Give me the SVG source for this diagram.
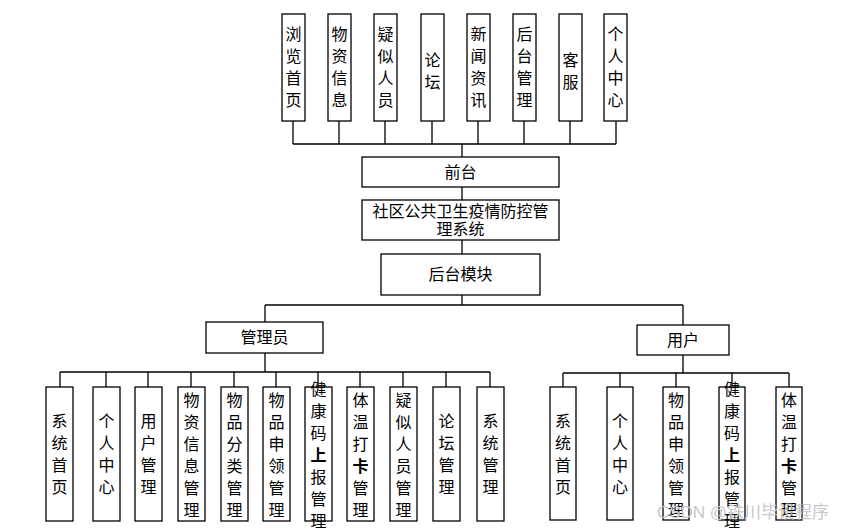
<svg xmlns="http://www.w3.org/2000/svg" width="859" height="531" viewBox="0 0 859 531">
<style>
rect{fill:#fff;stroke:#000;stroke-width:1.3}
.c path{fill:none;stroke:#000;stroke-width:1.3}
text{font-family:"Liberation Sans","Noto Sans CJK SC",sans-serif;font-size:16px;text-anchor:middle;dominant-baseline:central;fill:#000}
</style>
<rect x="0" y="0" width="859" height="531" style="stroke:none"/>
<g class="c">
<path d="M293 121V144M339 121V144M385 121V144M432 121V144M478 121V144M524 121V144M570 121V144M616 121V144M293 144H616M462 144V157M462 187V200M462 240V254M462 295V305M265 305H683M265 305V322M683 305V325M265 353V372M60 372H490M60 372V387M106 372V387M148 372V387M191 372V387M234 372V387M276 372V387M318 372V387M360 372V387M403 372V387M446 372V387M490 372V387M683 355V373M563 373H789M563 373V387M620 373V387M676 373V387M732 373V387M789 373V387"/>
</g>
<g id="t1"><rect x="282" y="14" width="23" height="107"/><text x="293.5" y="34">浏</text><text x="293.5" y="56">览</text><text x="293.5" y="78">首</text><text x="293.5" y="100">页</text></g>
<g id="t2"><rect x="328" y="14" width="23" height="107"/><text x="339.5" y="34">物</text><text x="339.5" y="56">资</text><text x="339.5" y="78">信</text><text x="339.5" y="100">息</text></g>
<g id="t3"><rect x="374" y="14" width="23" height="107"/><text x="385.5" y="34">疑</text><text x="385.5" y="56">似</text><text x="385.5" y="78">人</text><text x="385.5" y="100">员</text></g>
<g id="t4"><rect x="421" y="14" width="23" height="107"/><text x="432.5" y="60">论</text><text x="432.5" y="82">坛</text></g>
<g id="t5"><rect x="467" y="14" width="23" height="107"/><text x="478.5" y="34">新</text><text x="478.5" y="56">闻</text><text x="478.5" y="78">资</text><text x="478.5" y="100">讯</text></g>
<g id="t6"><rect x="513" y="14" width="23" height="107"/><text x="524.5" y="34">后</text><text x="524.5" y="56">台</text><text x="524.5" y="78">管</text><text x="524.5" y="100">理</text></g>
<g id="t7"><rect x="559" y="14" width="23" height="107"/><text x="570.5" y="60">客</text><text x="570.5" y="82">服</text></g>
<g id="t8"><rect x="604" y="14" width="23" height="107"/><text x="615.5" y="34">个</text><text x="615.5" y="56">人</text><text x="615.5" y="78">中</text><text x="615.5" y="100">心</text></g>
<g id="qiantai"><rect x="362" y="157" width="197" height="30"/><text x="460.5" y="172">前台</text></g>
<g id="sys"><rect x="362" y="200" width="197" height="40"/><text x="460.5" y="211">社区公共卫生疫情防控管</text><text x="460.5" y="229">理系统</text></g>
<g id="houtai"><rect x="381" y="254" width="159" height="41"/><text x="460.5" y="274.5">后台模块</text></g>
<g id="admin"><rect x="206" y="322" width="117" height="31"/><text x="264.5" y="337.5">管理员</text></g>
<g id="user"><rect x="637" y="325" width="92" height="30"/><text x="683" y="340">用户</text></g>
<g id="a1"><rect x="46" y="387" width="27" height="134"/><text x="59.5" y="421">系</text><text x="59.5" y="443">统</text><text x="59.5" y="465">首</text><text x="59.5" y="487">页</text></g>
<g id="a2"><rect x="93" y="387" width="27" height="134"/><text x="106.5" y="421">个</text><text x="106.5" y="443">人</text><text x="106.5" y="465">中</text><text x="106.5" y="487">心</text></g>
<g id="a3"><rect x="135" y="387" width="27" height="134"/><text x="148.5" y="421">用</text><text x="148.5" y="443">户</text><text x="148.5" y="465">管</text><text x="148.5" y="487">理</text></g>
<g id="a4"><rect x="178" y="387" width="27" height="134"/><text x="191.5" y="400">物</text><text x="191.5" y="422">资</text><text x="191.5" y="444">信</text><text x="191.5" y="466">息</text><text x="191.5" y="488">管</text><text x="191.5" y="510">理</text></g>
<g id="a5"><rect x="221" y="387" width="27" height="134"/><text x="234.5" y="400">物</text><text x="234.5" y="422">品</text><text x="234.5" y="444">分</text><text x="234.5" y="466">类</text><text x="234.5" y="488">管</text><text x="234.5" y="510">理</text></g>
<g id="a6"><rect x="263" y="387" width="27" height="134"/><text x="276.5" y="400">物</text><text x="276.5" y="422">品</text><text x="276.5" y="444">申</text><text x="276.5" y="466">领</text><text x="276.5" y="488">管</text><text x="276.5" y="510">理</text></g>
<g id="a7"><rect x="305" y="387" width="27" height="134"/><text x="318.5" y="389">健</text><text x="318.5" y="411">康</text><text x="318.5" y="433">码</text><text x="318.5" y="455" font-weight="bold">上</text><text x="318.5" y="477">报</text><text x="318.5" y="499">管</text><text x="318.5" y="521">理</text></g>
<g id="a8"><rect x="347" y="387" width="27" height="134"/><text x="360.5" y="400">体</text><text x="360.5" y="422">温</text><text x="360.5" y="444">打</text><text x="360.5" y="466" font-weight="bold">卡</text><text x="360.5" y="488">管</text><text x="360.5" y="510">理</text></g>
<g id="a9"><rect x="390" y="387" width="27" height="134"/><text x="403.5" y="400">疑</text><text x="403.5" y="422">似</text><text x="403.5" y="444">人</text><text x="403.5" y="466">员</text><text x="403.5" y="488">管</text><text x="403.5" y="510">理</text></g>
<g id="a10"><rect x="433" y="387" width="27" height="134"/><text x="446.5" y="421">论</text><text x="446.5" y="443">坛</text><text x="446.5" y="465">管</text><text x="446.5" y="487">理</text></g>
<g id="a11"><rect x="477" y="387" width="27" height="134"/><text x="490.5" y="421">系</text><text x="490.5" y="443">统</text><text x="490.5" y="465">管</text><text x="490.5" y="487">理</text></g>
<g id="u1"><rect x="550" y="387" width="26" height="133"/><text x="563" y="421">系</text><text x="563" y="443">统</text><text x="563" y="465">首</text><text x="563" y="487">页</text></g>
<g id="u2"><rect x="607" y="387" width="26" height="133"/><text x="620" y="421">个</text><text x="620" y="443">人</text><text x="620" y="465">中</text><text x="620" y="487">心</text></g>
<g id="u3"><rect x="663" y="387" width="26" height="133"/><text x="676" y="400">物</text><text x="676" y="422">品</text><text x="676" y="444">申</text><text x="676" y="466">领</text><text x="676" y="488">管</text><text x="676" y="510">理</text></g>
<g id="u4"><rect x="719" y="387" width="26" height="133"/><text x="732" y="389">健</text><text x="732" y="411">康</text><text x="732" y="433">码</text><text x="732" y="455" font-weight="bold">上</text><text x="732" y="477">报</text><text x="732" y="499">管</text><text x="732" y="521">理</text></g>
<g id="u5"><rect x="776" y="387" width="26" height="133"/><text x="789" y="400">体</text><text x="789" y="422">温</text><text x="789" y="444">打</text><text x="789" y="466" font-weight="bold">卡</text><text x="789" y="488">管</text><text x="789" y="510">理</text></g>
<text x="743" y="512" style="font-size:17px;fill:#c8c8c8">CSDN @铁川毕设程序</text>
</svg>
